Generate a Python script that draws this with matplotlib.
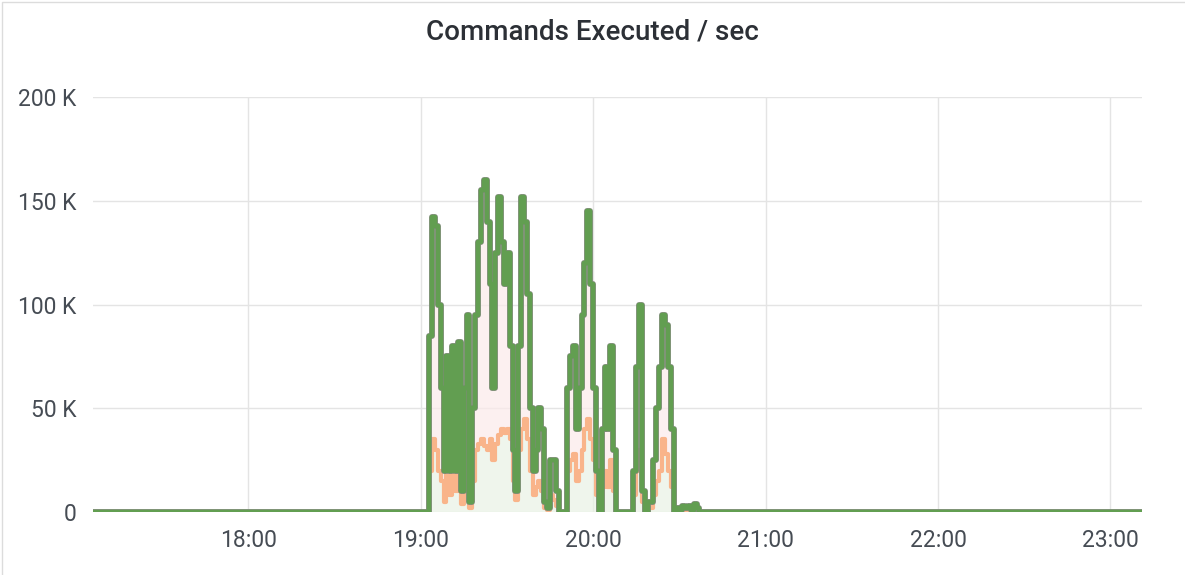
import matplotlib
matplotlib.use("Agg")
import matplotlib.pyplot as plt
import matplotlib.dates as mdates
import numpy as np
from datetime import datetime, timedelta

title = "Commands Executed / sec"
start = datetime(2024, 1, 1, 17, 6)
end = datetime(2024, 1, 1, 23, 11)
burst_start = datetime(2024, 1, 1, 19, 3)
# values in thousands, one per minute starting 19:03
green = [85, 142, 138, 100, 60, 20, 75, 20, 80, 20, 82, 10, 60, 95, 5, 50, 95, 130, 155, 160,
         140, 110, 60, 125, 152, 130, 110, 125, 80, 30, 10, 80, 152, 140, 105, 50, 20, 30, 50, 40,
         5, 2, 25, 25, 10, 0, 0, 0, 60, 75, 80, 40, 60, 95, 120, 145, 110, 60, 20, 0,
         40, 70, 40, 80, 30, 0, 0, 0, 0, 0, 0, 20, 70, 100, 10, 0, 5, 5, 25, 50,
         70, 95, 90, 70, 40, 0, 2, 1, 3, 2, 3, 1, 4, 2, 0, 0]
orange = [20, 35, 30, 20, 15, 5, 20, 8, 25, 10, 22, 4, 18, 28, 2, 15, 30, 33, 35, 32,
          30, 35, 25, 33, 37, 40, 38, 40, 35, 15, 6, 30, 40, 45, 35, 20, 8, 12, 15, 10,
          2, 1, 8, 6, 3, 0, 0, 0, 20, 25, 28, 15, 20, 30, 40, 45, 35, 25, 8, 0,
          12, 20, 12, 25, 10, 0, 0, 0, 0, 0, 0, 8, 20, 30, 5, 0, 2, 2, 8, 15,
          20, 35, 28, 20, 12, 0, 1, 0, 1, 1, 1, 0, 2, 1, 0, 0]

times = [start, burst_start - timedelta(minutes=1)] + \
        [burst_start + timedelta(minutes=i) for i in range(len(green))] + [end]
g = np.array([0, 0] + green + [0]) * 1000
o = np.array([0, 0] + orange + [0]) * 1000
o = np.minimum(o, g)

plt.rcParams['font.family'] = ['Roboto', 'DejaVu Sans']
fig = plt.figure(figsize=(11.85, 5.75), dpi=100)
ax = fig.add_axes([93/1185, 1 - 512/575, (1142-93)/1185, (512-97)/575])
ax.fill_between(times, 0, o, step='post', color='#e9f2e4', alpha=0.7, lw=0)
ax.fill_between(times, o, g, step='post', color='#fbeaea', alpha=0.7, lw=0)
ax.step(times, o, where='post', color='#f9b48a', lw=3)
ax.step(times, g, where='post', color='#7f8a79', lw=4.2)
ax.step(times, g, where='post', color='#629e51', lw=3.2)

ax.set_xlim(start, end)
ax.set_ylim(0, 200000)
ax.set_yticks([0, 50000, 100000, 150000, 200000])
ax.set_yticklabels(["0", "50 K", "100 K", "150 K", "200 K"])
ax.xaxis.set_major_locator(mdates.HourLocator())
ax.xaxis.set_major_formatter(mdates.DateFormatter("%H:%M"))
ax.grid(True, color='#e4e4e4', lw=1)
ax.set_axisbelow(True)
for s in ax.spines.values():
    s.set_visible(False)
ax.tick_params(length=0, labelsize=16.5, labelcolor='#464c54')
ax.tick_params(axis='y', pad=12)
ax.tick_params(axis='x', pad=12)
fig.text(0.5, 1 - 32/575, title, ha='center', va='center', fontsize=20,
         fontweight='medium', color='#2c3036')
fig.add_artist(plt.Rectangle((2/1185, -0.1), 1.2, 1.1 - 2/575, transform=fig.transFigure,
                             fill=False, ec='#dcdcdc', lw=1))
fig.savefig("out.png", dpi=100)
